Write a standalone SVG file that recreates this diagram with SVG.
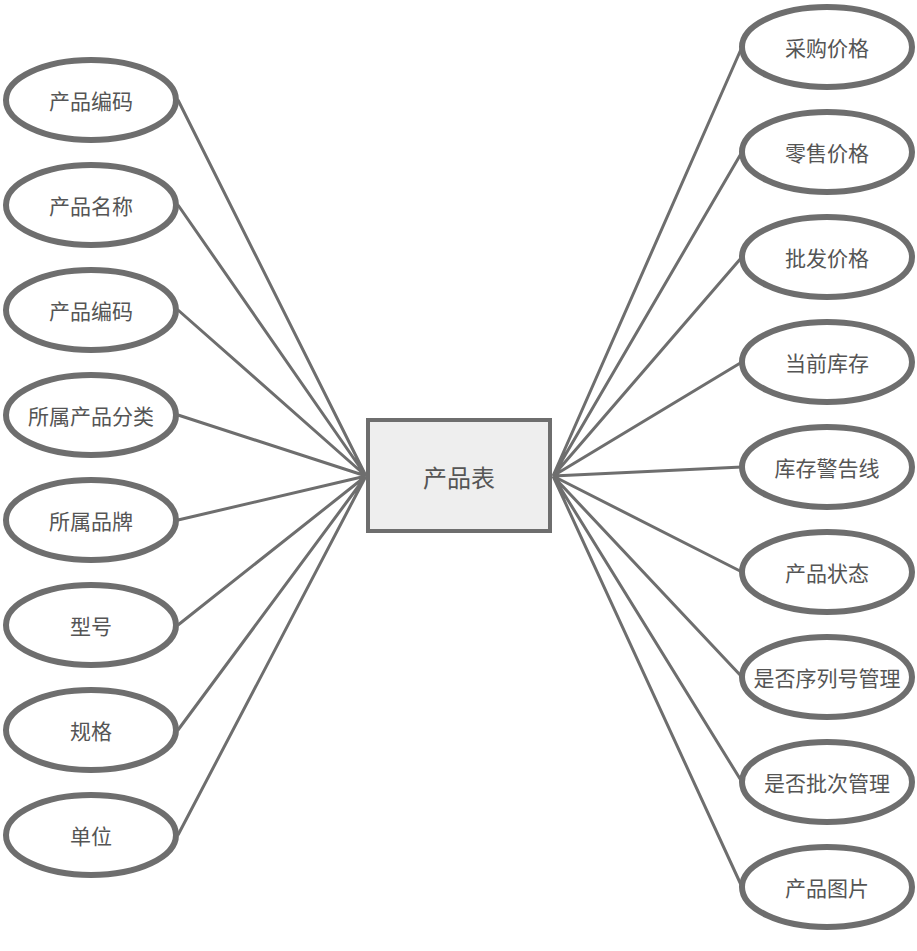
<svg xmlns="http://www.w3.org/2000/svg" width="917" height="951" viewBox="0 0 917 951">
<style>
.e{fill:#fff;stroke:#6e6e6e;stroke-width:6}
.t{font-family:"Noto Sans CJK SC","Liberation Sans",sans-serif;font-size:21px;fill:#555;text-anchor:middle;dominant-baseline:central}
.c{stroke:#6e6e6e;stroke-width:3;fill:none}
</style>
<rect width="917" height="951" fill="#fff"/>
<g id="connectors">
<path class="c" d="M178 100L366 476M178 205L366 476M178 310L366 476M178 415L366 476M178 520L366 476M178 625L366 476M178 730L366 476M178 835L366 476"/>
<path class="c" d="M742 47L553 476M742 152L553 476M742 257L553 476M742 362L553 476M742 467L553 476M742 572L553 476M742 677L553 476M742 782L553 476M742 887L553 476"/>
</g>
<g id="center"><rect x="368" y="420" width="182" height="111" fill="#eeeeee" stroke="#6e6e6e" stroke-width="4"/><text class="t" x="459" y="476" style="font-size:24px">产品表</text></g>
<g id="l1"><ellipse class="e" cx="91" cy="100" rx="85" ry="40"/><text class="t" x="91" y="100">产品编码</text></g>
<g id="l2"><ellipse class="e" cx="91" cy="205" rx="85" ry="40"/><text class="t" x="91" y="205">产品名称</text></g>
<g id="l3"><ellipse class="e" cx="91" cy="310" rx="85" ry="40"/><text class="t" x="91" y="310">产品编码</text></g>
<g id="l4"><ellipse class="e" cx="91" cy="415" rx="85" ry="40"/><text class="t" x="91" y="415">所属产品分类</text></g>
<g id="l5"><ellipse class="e" cx="91" cy="520" rx="85" ry="40"/><text class="t" x="91" y="520">所属品牌</text></g>
<g id="l6"><ellipse class="e" cx="91" cy="625" rx="85" ry="40"/><text class="t" x="91" y="625">型号</text></g>
<g id="l7"><ellipse class="e" cx="91" cy="730" rx="85" ry="40"/><text class="t" x="91" y="730">规格</text></g>
<g id="l8"><ellipse class="e" cx="91" cy="835" rx="85" ry="40"/><text class="t" x="91" y="835">单位</text></g>
<g id="r1"><ellipse class="e" cx="827" cy="47" rx="85" ry="40"/><text class="t" x="827" y="47">采购价格</text></g>
<g id="r2"><ellipse class="e" cx="827" cy="152" rx="85" ry="40"/><text class="t" x="827" y="152">零售价格</text></g>
<g id="r3"><ellipse class="e" cx="827" cy="257" rx="85" ry="40"/><text class="t" x="827" y="257">批发价格</text></g>
<g id="r4"><ellipse class="e" cx="827" cy="362" rx="85" ry="40"/><text class="t" x="827" y="362">当前库存</text></g>
<g id="r5"><ellipse class="e" cx="827" cy="467" rx="85" ry="40"/><text class="t" x="827" y="467">库存警告线</text></g>
<g id="r6"><ellipse class="e" cx="827" cy="572" rx="85" ry="40"/><text class="t" x="827" y="572">产品状态</text></g>
<g id="r7"><ellipse class="e" cx="827" cy="677" rx="85" ry="40"/><text class="t" x="827" y="677">是否序列号管理</text></g>
<g id="r8"><ellipse class="e" cx="827" cy="782" rx="85" ry="40"/><text class="t" x="827" y="782">是否批次管理</text></g>
<g id="r9"><ellipse class="e" cx="827" cy="887" rx="85" ry="40"/><text class="t" x="827" y="887">产品图片</text></g>
</svg>
